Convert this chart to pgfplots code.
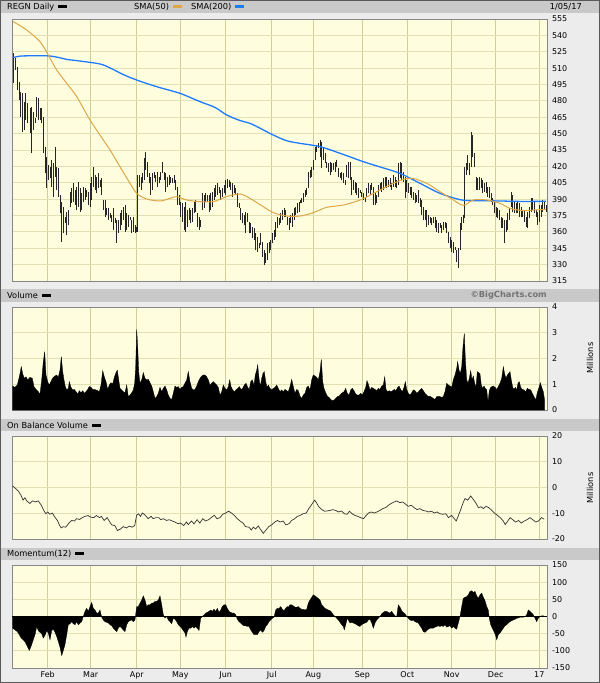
\documentclass[border=0pt]{standalone}
\usepackage{pgfplots}
\pgfplotsset{compat=1.18}
\usepackage{fontspec}
\setmainfont{DejaVu Sans}
\definecolor{plotbg}{RGB}{254,254,222}
\definecolor{vgrid}{RGB}{206,206,150}
\definecolor{hgrid}{RGB}{224,224,178}
\definecolor{outerbg}{RGB}{236,236,236}
\definecolor{hdr}{RGB}{201,201,201}
\definecolor{framec}{RGB}{135,135,135}
\definecolor{smaor}{RGB}{222,166,70}
\definecolor{smabl}{RGB}{30,122,255}
\newcommand{\swatch}[1]{\hspace{4bp}\textcolor{#1}{\rule[1.5bp]{9bp}{3bp}}}
\pgfplotsset{
  panel/.style={
    scale only axis, width=535bp, anchor=south west,
    xmin=12, xmax=547,
    axis background/.style={fill=plotbg},
    axis line style={framec, line width=0.9bp},
    xtick={47.7,90.7,136.7,180.3,225.7,271.7,313.3,362.3,407.3,451.7,495.7,539.3},
    xticklabels={},
    xmajorgrids, ymajorgrids,
    x grid style={vgrid, line width=0.9bp},
    y grid style={hgrid, line width=0.8bp},
    major tick length=0pt,
    yticklabel pos=right,
    tick label style={font=\fontsize{8}{9}\selectfont, text=black},
    yticklabel style={anchor=west, xshift=1.5bp},
  }
}
\begin{document}
\begin{tikzpicture}
\path[use as bounding box] (0,0) rectangle (600bp,-683bp);
\fill[outerbg] (0,0) rectangle (600bp,-683bp);
\fill[hdr] (0,0) rectangle (600bp,-13bp);
\fill[hdr] (0,-289bp) rectangle (600bp,-302bp);
\fill[hdr] (0,-419bp) rectangle (600bp,-431bp);
\fill[hdr] (0,-548bp) rectangle (600bp,-560bp);
\draw[black!65, line width=1bp] (0.5bp,-0.5bp) rectangle (599.5bp,-682.5bp);
\begin{scope}[every node/.style={inner sep=0pt, font=\fontsize{8.3}{9}\selectfont}]
\node[anchor=west] at (7bp,-7bp) {REGN Daily\swatch{black}};
\node[anchor=west] at (134bp,-7bp) {SMA(50)\swatch{smaor}};
\node[anchor=west] at (191bp,-7bp) {SMA(200)\swatch{smabl}};
\node[anchor=east] at (582bp,-7bp) {1/05/17};
\node[anchor=west] at (7bp,-295.5bp) {Volume\swatch{black}};
\node[anchor=east, text=black!55] at (547bp,-295.5bp) {\textbf{©BigCharts.com}};
\node[anchor=west] at (7bp,-425bp) {On Balance Volume\swatch{black}};
\node[anchor=west] at (7bp,-554bp) {Momentum(12)\swatch{black}};
\node[rotate=90] at (590bp,-358bp) {Millions};
\node[rotate=90] at (590bp,-488bp) {Millions};
\end{scope}

% ---------------- Price panel ----------------
\begin{axis}[panel, at={(12bp,-281bp)}, height=262bp, ymin=315, ymax=555,
  ytick={315,330,345,360,375,390,405,420,435,450,465,480,495,510,525,540,555},
  yticklabels={315,330,345,360,375,390,405,420,435,450,465,480,495,510,525,540,555}]
\addplot[black!85, line width=0.75bp, quiver={u=0, v=\thisrow{h}-\thisrow{l}}] table[x=x, y=l] {
x h l
13.3 524.2 496.1
15.0 519.0 508.3
17.3 511.3 490.0
19.0 497.6 480.8
20.7 488.4 465.5
22.3 486.9 451.8
24.0 479.3 453.3
25.7 486.9 462.5
27.7 477.7 459.4
30.0 473.2 450.3
31.7 474.7 431.9
33.3 470.1 453.3
35.0 464.0 459.4
36.7 483.9 465.5
38.3 482.3 462.5
40.0 473.2 462.5
41.7 473.2 459.4
43.3 465.5 431.9
45.0 438.1 413.6
46.7 428.9 399.9
48.3 421.3 407.5
50.0 419.7 409.0
51.7 425.8 401.4
53.3 422.8 392.3
55.0 438.1 410.6
56.7 419.7 398.4
58.3 418.2 392.3
60.0 393.8 377.0
61.7 387.7 351.0
63.3 383.1 358.7
65.0 373.9 367.8
66.7 378.5 357.1
68.3 380.0 366.3
70.0 396.8 383.1
71.7 399.9 386.1
73.3 404.5 387.7
75.0 398.4 384.6
76.7 401.4 380.0
78.3 406.0 383.1
80.0 399.9 378.5
81.7 395.3 380.0
83.3 401.4 387.7
85.0 399.9 389.2
86.7 398.4 392.3
88.3 396.8 384.6
90.0 404.5 383.1
91.7 410.6 389.2
93.3 419.7 401.4
95.0 412.1 398.4
96.7 410.6 395.3
98.3 413.6 399.9
100.0 407.5 401.4
101.7 409.0 393.8
103.3 389.2 380.0
105.0 389.2 373.9
106.7 381.6 375.5
108.3 381.6 370.9
110.0 377.0 372.4
111.7 375.5 369.3
113.3 381.6 361.7
115.0 372.4 367.8
116.7 370.9 349.5
118.3 370.9 358.7
120.0 377.0 361.7
121.7 380.0 366.3
123.3 383.1 370.9
125.0 384.6 360.2
126.7 377.0 361.7
128.3 375.5 364.8
130.0 373.9 370.9
131.7 370.9 358.7
133.3 373.9 360.2
135.0 366.3 358.7
136.7 364.8 360.2
137.7 412.1 360.2
139.3 412.1 401.4
141.0 410.6 398.4
142.7 413.6 404.5
144.3 427.4 407.5
145.7 433.5 416.7
147.3 424.3 410.6
149.0 413.6 404.5
150.7 410.6 393.8
152.3 413.6 398.4
154.0 415.2 409.0
155.7 412.1 406.0
157.3 415.2 401.4
159.0 410.6 404.5
160.7 415.2 407.5
162.3 424.3 413.6
164.0 415.2 407.5
165.7 413.6 396.8
167.3 410.6 401.4
169.0 412.1 402.9
170.7 410.6 404.5
172.3 409.0 404.5
174.0 412.1 404.5
175.7 407.5 398.4
177.3 401.4 384.6
179.0 393.8 384.6
180.7 387.7 373.9
182.3 386.1 369.3
184.0 383.1 361.7
185.7 387.7 360.2
187.3 380.0 364.8
189.0 381.6 370.9
190.7 380.0 367.8
192.3 381.6 369.3
194.0 387.7 377.0
195.7 389.2 378.5
197.3 377.0 364.8
199.0 373.9 361.7
200.7 370.9 364.8
202.3 395.3 380.0
204.0 393.8 381.6
205.7 395.3 387.7
207.3 393.8 387.7
209.0 393.8 378.5
210.7 395.3 380.0
212.3 396.8 383.1
214.0 399.9 389.2
215.7 402.9 392.3
217.3 404.5 393.8
219.0 401.4 395.3
220.7 398.4 389.2
222.3 399.9 392.3
224.0 402.9 395.3
225.7 407.5 393.8
227.3 408.1 399.9
229.0 407.5 401.4
230.7 406.0 398.4
232.3 404.5 392.3
234.0 402.9 395.3
235.7 399.9 393.8
237.3 395.3 383.1
239.0 386.1 381.6
240.7 381.6 370.9
242.3 377.0 367.8
244.0 375.5 366.3
245.7 378.5 358.7
247.3 377.0 369.3
249.0 369.3 358.7
250.7 367.8 358.7
252.3 364.8 354.1
254.0 363.2 352.6
255.7 358.7 343.4
257.3 355.6 341.9
259.0 349.5 344.9
260.7 358.7 348.0
262.3 351.0 337.3
264.0 343.4 329.6
265.7 340.3 331.2
267.3 349.5 334.2
269.0 351.0 340.3
270.7 352.6 343.4
272.3 358.7 349.5
274.0 361.7 352.6
275.7 369.3 355.6
277.3 373.9 363.2
279.0 372.4 366.3
280.7 377.0 367.8
282.3 380.0 370.9
284.0 381.6 373.9
285.7 380.0 373.9
287.3 373.9 366.3
289.0 372.4 361.7
290.7 375.5 367.8
292.3 377.0 364.8
294.0 381.6 370.9
295.7 383.1 375.5
297.3 386.1 377.0
299.0 387.7 378.5
300.0 389.2 386.1
301.7 390.7 386.1
303.3 395.3 387.7
305.0 398.4 392.3
306.7 399.9 393.8
308.3 415.2 399.9
310.0 416.7 409.0
311.7 419.7 410.6
313.3 425.8 416.7
315.0 438.1 425.8
316.7 439.6 433.5
318.3 441.1 436.5
320.0 444.2 428.9
321.7 442.6 418.2
323.3 438.1 425.8
325.0 431.9 422.8
326.7 424.3 418.2
328.3 422.8 415.2
330.0 424.3 412.1
331.7 422.8 415.2
333.3 422.8 416.7
335.0 424.3 415.2
336.7 425.8 419.7
338.3 418.2 410.6
340.0 413.6 409.0
341.7 415.2 407.5
343.3 413.6 404.5
345.0 407.5 402.9
346.7 421.3 410.6
348.3 424.3 409.0
350.0 424.3 407.5
351.7 410.6 393.8
353.3 407.5 398.4
355.0 406.0 395.3
356.7 404.5 393.8
358.3 399.9 390.7
360.0 398.4 395.3
361.7 396.8 392.3
363.3 395.3 389.2
365.0 392.3 387.7
366.7 399.9 392.3
368.3 404.5 395.3
370.0 402.9 393.8
371.7 404.5 398.4
373.3 401.4 384.6
375.0 395.3 384.6
376.7 393.8 386.1
378.3 402.9 392.3
380.0 404.5 398.4
381.7 406.0 396.8
383.3 409.0 398.4
385.0 410.6 401.4
386.7 410.6 399.9
388.3 407.5 401.4
390.0 409.0 401.4
391.7 404.5 398.4
393.3 412.1 401.4
395.0 410.6 401.4
396.7 407.5 399.9
398.3 422.8 402.9
400.0 424.3 409.0
401.7 422.8 407.5
403.3 415.2 406.0
405.0 410.6 390.7
406.7 407.5 396.8
408.3 404.5 395.3
410.0 401.4 393.8
411.7 401.4 390.7
413.3 396.8 389.2
415.0 395.3 386.1
416.7 393.8 387.7
418.3 398.4 386.1
420.0 390.7 383.1
421.7 389.2 375.5
423.3 383.1 370.9
425.0 380.0 370.9
426.7 380.0 364.8
428.3 375.5 366.3
430.0 373.9 367.8
431.7 372.4 366.3
433.3 373.9 367.8
435.0 373.9 363.2
436.7 370.9 360.2
438.3 367.8 358.7
440.0 367.8 363.2
441.7 366.3 358.7
443.3 369.3 361.7
445.0 369.3 363.2
446.7 367.8 358.7
448.3 360.2 349.5
450.0 355.6 344.9
451.7 352.6 341.9
453.3 351.0 340.3
455.0 346.4 343.4
456.7 343.4 332.7
458.3 344.9 326.6
460.0 367.8 343.4
461.7 373.9 361.7
463.3 375.5 367.8
464.3 419.7 372.4
466.0 422.8 412.1
467.7 430.4 416.7
469.3 422.8 412.1
471.0 451.8 419.7
472.7 448.7 428.9
474.3 431.9 419.7
476.0 410.6 398.4
477.7 409.0 398.4
479.3 410.6 398.4
481.0 409.0 399.9
482.7 407.5 395.3
484.3 404.5 396.8
486.0 406.0 395.3
487.7 401.4 392.3
489.3 401.4 390.7
491.0 395.3 387.7
492.7 390.7 384.6
494.3 387.7 377.0
496.0 383.1 373.9
497.7 381.6 372.4
499.3 380.0 370.9
501.0 373.9 363.2
502.7 372.4 363.2
504.3 370.9 349.5
506.0 370.9 360.2
507.7 377.0 361.7
509.3 381.6 370.9
511.0 396.8 383.1
512.7 393.8 378.5
514.3 387.7 377.0
516.0 386.1 377.0
517.7 387.7 377.0
519.3 386.1 373.9
521.0 383.1 373.9
522.7 380.0 373.9
524.3 380.0 369.3
526.0 373.9 364.8
527.7 378.5 363.2
529.3 383.1 372.4
531.0 390.7 378.5
532.7 390.7 380.0
534.3 387.7 377.0
536.0 380.0 373.9
537.7 378.5 366.3
539.3 384.6 369.3
541.0 384.6 373.9
542.7 389.2 378.5
544.3 387.7 380.0
546.0 384.6 378.5
};
\addplot[smabl, line width=1.3bp, smooth, tension=0.5] coordinates {
(13.3,519.7) (20,521) (30,521.3) (40,521.3) (50,521.1) (60,519.5) (66.7,518) (80,516.5)
(100,513.8) (110,510.2) (123.3,504.1) (136.7,499.1) (156.7,493) (180,486.9) (200,479.3)
(215,474) (226.7,467.1) (240,462) (250,459.4) (260,455) (273.3,448.7) (286.7,443.5)
(300,441.1) (320,438.1) (340,432) (363.3,424.3) (380,419.5) (400,413.6) (420,404.5)
(440,395.3) (461.7,389.2) (480,388.6) (500,388.3) (520,387.9) (546,388)
};
\addplot[smaor, line width=1bp, smooth, tension=0.5] coordinates {
(13.3,552.6) (26.7,544.9) (40,534.2) (48.3,522) (56.7,508.3) (66.7,496.1) (76.7,483.9)
(90,462.5) (100,448.7) (110,435) (120,419.7) (130,404.5) (136.7,395.3) (146.7,390.1)
(160,388.3) (170,390.7) (176.7,392.3) (186.7,389.2) (200,387.7) (213.3,387.7)
(226.7,392.3) (240,394.7) (250,390.7) (263.3,383.1) (273.3,377.6) (286.7,374.5)
(300,374.5) (313.3,377.6) (326.7,382.5) (343.3,384.6) (360,389.2) (376.7,396.8)
(393.3,404.5) (406.7,409) (413.3,409) (426.7,404.5) (440,396.8) (453.3,389.2)
(463.3,384.3) (473.3,389.2) (486.7,389.2) (500,386.1) (510,381.6) (523.3,379.4)
(533.3,380) (546,380.6)
};
\end{axis}

% ---------------- Volume panel ----------------
\begin{axis}[panel, at={(12bp,-410bp)}, height=103bp, ymin=0, ymax=4,
  ytick={0,1,2,3,4}, yticklabels={0,1,2,3,4}]
\addplot[fill=black, draw=black, line width=0.3bp] table {
x v
12.7 0.93
15.0 0.88
17.3 0.97
19.3 1.29
21.3 1.68
22.7 1.40
24.3 1.23
26.0 1.29
27.7 1.17
30.0 1.27
32.3 1.23
34.0 0.91
36.0 0.80
38.3 0.71
40.0 0.62
41.7 1.17
43.3 1.88
44.7 2.27
46.0 1.36
47.7 1.10
49.3 0.97
51.7 1.17
53.3 1.27
55.0 1.32
56.7 1.36
58.3 1.27
60.0 1.55
61.3 2.07
62.7 1.49
64.0 1.17
65.3 0.91
66.7 0.78
68.3 0.84
69.3 1.10
71.0 0.88
72.7 0.78
74.3 0.80
76.0 0.71
77.7 0.62
79.3 0.75
81.0 0.67
82.7 0.75
84.3 0.65
86.0 0.71
87.7 0.80
89.3 0.91
91.0 0.88
92.7 0.80
94.3 0.80
96.0 0.78
97.7 0.75
99.3 0.71
101.0 0.97
102.7 1.53
104.3 1.29
106.0 1.10
107.7 0.80
109.3 0.97
111.0 1.06
112.7 1.01
114.3 1.27
116.0 1.45
117.3 1.55
118.7 1.17
120.0 0.84
121.7 0.78
123.3 0.71
125.0 0.67
126.7 0.97
128.3 0.52
130.0 0.58
131.7 0.67
133.3 0.78
134.7 1.04
135.7 1.68
136.7 3.13
137.7 2.46
138.7 1.49
140.0 1.04
141.7 1.17
143.3 1.45
145.0 1.23
146.7 1.17
148.3 1.19
150.0 1.06
151.7 0.93
153.3 0.71
155.0 0.45
156.7 0.52
158.3 0.65
160.0 0.88
161.7 0.71
163.3 0.84
165.0 0.93
166.7 0.78
168.3 0.58
170.0 0.45
171.7 0.41
173.3 0.65
175.0 0.93
176.7 0.88
178.3 0.91
180.0 0.80
181.7 0.88
183.3 0.91
185.0 1.04
186.7 1.17
188.3 1.49
190.0 1.10
191.7 0.84
193.3 0.78
195.0 0.80
196.7 0.93
198.3 1.10
200.0 1.23
201.7 1.32
203.3 1.36
205.0 1.36
206.7 1.29
208.3 1.17
210.0 0.97
211.7 1.04
213.3 1.10
215.0 1.04
216.7 0.97
218.3 0.88
220.0 0.58
221.7 0.71
223.3 0.97
225.0 0.84
226.7 0.78
228.3 0.91
229.7 1.17
231.0 0.91
232.7 0.78
234.3 0.71
236.0 0.78
237.7 0.84
239.3 0.91
241.0 0.80
242.7 0.84
244.3 0.97
246.0 1.04
247.7 0.88
249.3 0.80
250.7 1.10
252.3 1.17
254.0 0.97
255.3 1.36
256.7 1.55
257.7 1.75
259.0 1.23
260.3 0.91
261.7 1.23
263.0 1.42
264.3 1.49
265.7 1.10
267.0 0.88
268.3 0.97
270.0 0.84
271.7 0.78
273.3 0.84
275.0 0.88
276.7 0.97
278.3 0.84
280.0 0.71
281.7 0.78
283.3 0.71
285.0 0.80
286.7 0.75
288.3 0.71
290.0 0.91
291.7 1.19
293.3 0.91
295.0 0.65
296.7 0.80
298.3 0.75
300.0 0.54
301.7 0.45
303.3 0.58
305.0 0.65
306.7 0.88
308.3 0.93
310.0 0.78
311.7 1.17
313.3 1.36
315.0 1.32
316.7 1.27
318.3 1.17
320.0 1.49
321.3 1.97
322.7 1.10
324.0 0.84
325.7 0.67
327.3 0.54
329.0 0.49
330.7 0.41
332.3 0.36
334.0 0.39
335.7 0.45
337.3 0.52
339.0 0.54
340.7 0.62
342.3 0.67
344.0 0.71
345.7 0.84
347.3 0.65
349.0 0.58
350.7 0.78
352.3 0.84
354.0 0.75
355.7 0.62
357.3 0.58
359.0 0.58
360.7 0.65
362.3 0.58
364.0 0.71
365.7 0.88
367.0 1.14
368.3 1.01
370.0 0.78
371.7 0.88
373.3 0.84
375.0 0.80
376.7 0.75
378.3 0.84
380.0 0.80
381.7 0.93
383.3 0.97
384.7 1.29
386.0 0.80
387.7 0.71
389.3 0.75
391.0 0.71
392.7 0.75
394.3 0.80
396.0 0.75
397.7 0.88
399.0 0.93
400.7 0.80
402.3 0.71
404.0 0.88
405.3 1.10
406.7 0.80
408.3 0.65
410.0 0.58
411.7 0.67
413.3 0.78
415.0 0.75
416.7 0.65
418.3 0.71
420.0 0.78
421.7 0.84
423.3 0.75
425.0 0.65
426.7 0.58
428.3 0.52
430.0 0.54
431.7 0.49
433.3 0.45
435.0 0.41
436.7 0.52
438.3 0.52
440.0 0.52
441.7 0.49
443.3 0.52
445.0 0.71
446.7 1.04
448.3 0.97
450.0 0.93
451.7 0.88
453.3 1.17
455.0 1.36
456.7 1.62
457.7 1.88
459.0 1.55
460.3 1.42
461.7 1.68
463.0 2.46
464.3 2.98
465.3 2.01
466.7 1.17
468.0 1.04
469.3 1.23
470.7 1.53
472.0 1.17
473.3 1.32
474.7 1.04
476.0 0.88
477.3 1.49
478.7 1.45
480.0 1.40
481.3 0.97
482.7 0.84
484.0 0.93
485.3 0.84
486.7 0.78
488.0 0.32
489.3 0.75
490.7 0.88
492.0 0.91
493.3 0.93
495.0 0.88
496.7 0.80
498.3 0.91
500.0 1.04
501.7 1.23
503.3 1.68
504.7 1.40
506.0 1.23
507.3 1.36
508.7 1.42
510.0 1.49
511.3 1.17
512.7 0.88
514.0 0.80
515.3 0.88
516.7 0.78
518.0 1.04
519.3 1.10
520.7 0.88
522.3 0.80
524.0 0.78
525.7 0.71
527.3 0.84
529.0 0.80
530.7 0.78
532.3 0.65
534.0 0.52
535.7 0.39
537.3 0.67
539.0 0.88
540.3 1.06
541.7 0.88
543.3 0.71
544.7 0.36
} \closedcycle;
\end{axis}

% ---------------- OBV panel ----------------
\begin{axis}[panel, at={(12bp,-539bp)}, height=103bp, ymin=-20, ymax=20,
  ytick={-20,-10,0,10,20}, yticklabels={-20,-10,0,10,20}]
\addplot[black!80, line width=0.7bp] table {
x v
12.6 0.6
15.3 -0.3
18.4 -1.4
21.0 -3.0
23.0 -4.9
24.9 -4.0
26.8 -5.2
29.9 -6.2
32.5 -5.2
35.2 -5.6
38.3 -5.2
41.3 -6.9
44.0 -9.1
45.9 -10.2
47.8 -9.5
49.8 -10.4
52.4 -9.9
54.3 -11.2
57.4 -12.8
59.3 -14.5
61.2 -15.7
63.1 -15.2
65.8 -15.4
68.9 -13.8
71.6 -12.8
74.6 -13.0
76.5 -12.1
79.6 -12.4
82.3 -11.7
85.0 -11.2
88.0 -10.9
90.7 -11.5
93.8 -11.7
96.4 -10.9
99.5 -11.7
101.4 -11.2
104.1 -12.8
107.2 -11.7
109.1 -13.0
111.7 -14.5
114.8 -14.8
117.5 -16.7
120.6 -16.1
123.2 -15.2
126.3 -15.7
129.4 -15.0
132.0 -15.4
134.7 -14.8
136.6 -10.8
138.5 -10.2
140.5 -11.2
142.4 -9.9
145.4 -10.8
148.1 -12.1
151.2 -11.2
153.1 -12.1
155.8 -11.7
158.8 -11.7
160.7 -12.5
163.4 -12.1
166.5 -12.8
169.2 -12.5
172.2 -13.0
174.9 -13.4
178.0 -14.1
180.6 -13.8
183.7 -14.8
186.4 -13.4
188.3 -14.4
191.4 -13.0
194.0 -14.1
197.1 -12.5
199.8 -13.8
202.8 -12.1
205.5 -13.0
208.6 -12.5
211.2 -11.7
214.3 -10.8
217.0 -12.1
220.1 -11.7
222.7 -10.4
225.8 -9.9
228.5 -9.2
231.5 -9.9
234.2 -10.8
237.3 -12.1
240.0 -13.0
243.0 -13.8
245.7 -15.2
248.8 -15.4
251.4 -16.5
253.3 -15.4
255.6 -16.1
258.3 -14.9
260.2 -16.1
263.3 -17.8
266.0 -16.5
268.7 -15.2
271.7 -14.5
274.8 -13.4
277.5 -12.8
280.1 -13.4
283.2 -13.0
285.9 -14.5
288.9 -14.1
291.6 -12.8
294.7 -12.1
297.4 -11.2
300.4 -10.8
303.1 -10.2
306.2 -9.9
308.8 -8.2
311.9 -6.5
314.6 -4.9
316.5 -5.9
318.8 -7.5
321.5 -8.5
324.5 -9.2
327.2 -9.1
329.9 -8.9
333.0 -8.6
335.6 -8.9
338.7 -9.5
341.4 -9.1
344.4 -10.2
347.1 -10.4
349.4 -9.2
352.1 -10.2
354.8 -10.8
357.8 -11.2
360.5 -11.7
363.6 -12.1
366.2 -10.8
368.5 -9.9
371.2 -9.5
374.3 -9.9
377.0 -9.5
380.0 -8.9
382.7 -8.2
385.8 -7.8
388.4 -6.9
391.1 -6.2
394.2 -5.6
396.9 -5.2
399.9 -5.9
402.6 -5.6
405.7 -6.5
408.3 -7.3
411.4 -6.9
414.1 -7.8
417.1 -8.6
419.8 -8.2
422.9 -8.9
425.6 -9.1
428.6 -9.5
431.3 -9.2
434.4 -9.9
437.0 -9.5
440.1 -10.2
442.8 -10.4
445.8 -10.2
448.5 -11.7
451.6 -10.8
454.3 -12.1
456.2 -13.0
458.1 -11.2
460.4 -8.9
463.1 -5.9
465.0 -4.3
467.7 -4.9
470.7 -3.3
473.4 -4.7
475.7 -5.9
478.4 -7.8
481.1 -7.5
483.4 -8.2
486.0 -7.3
488.7 -7.8
491.8 -8.9
494.4 -9.9
497.5 -10.8
500.2 -11.7
503.3 -13.0
505.2 -14.4
507.8 -13.0
510.1 -11.7
512.8 -12.5
515.5 -13.4
518.6 -12.8
521.2 -13.8
524.3 -13.0
527.0 -12.5
530.0 -11.7
532.7 -12.5
535.8 -13.4
538.5 -13.0
541.5 -11.7
544.2 -12.3
};
\end{axis}

% ---------------- Momentum panel ----------------
\begin{axis}[panel, at={(12bp,-668bp)}, height=103bp, ymin=-150, ymax=150,
  ytick={-150,-100,-50,0,50,100,150}, yticklabels={-150,-100,-50,0,50,100,150},
  xticklabels={Feb,Mar,Apr,May,Jun,Jul,Aug,Sep,Oct,Nov,Dec,17}]
\addplot[fill=black, draw=black, line width=0.3bp] table {
x m
12.7 -34
15.0 -39
17.3 -44
19.3 -53
21.3 -63
23.3 -68
25.3 -75
27.3 -87
29.3 -99
31.3 -85
33.3 -68
35.3 -50
36.7 -29
38.3 -41
40.0 -46
41.7 -50
43.3 -63
45.3 -53
46.7 -41
48.3 -48
50.0 -68
51.7 -41
53.3 -37
55.0 -46
56.7 -58
58.3 -73
60.0 -89
61.7 -114
63.3 -99
65.0 -82
66.7 -53
68.3 -24
70.0 -21
71.7 -15
73.3 -21
75.0 -24
76.7 -15
78.3 -24
80.0 -19
81.7 -15
83.3 0
85.0 15
86.7 24
88.3 15
90.0 29
91.7 41
93.3 24
95.0 19
96.7 10
98.3 10
100.0 19
101.7 -2
103.3 -10
105.0 -15
106.7 -17
108.3 -19
110.0 -24
111.7 -27
113.3 -34
115.0 -39
116.7 -44
118.3 -34
120.0 -29
121.7 -34
123.3 -39
125.0 -44
126.7 -24
128.3 -15
130.0 -12
131.7 -10
133.3 -15
135.0 -10
136.7 29
138.3 29
140.0 39
141.7 48
143.3 60
145.0 48
146.7 29
148.3 34
150.0 34
151.7 39
153.3 39
155.0 44
156.7 44
158.3 48
160.0 60
161.7 34
163.3 5
165.0 -5
166.7 0
168.3 -10
170.0 -15
171.7 -21
173.3 -5
175.0 -8
176.7 -15
178.3 -24
180.0 -29
181.7 -34
183.3 -41
185.0 -48
186.0 -60
187.3 -44
189.0 -34
190.7 -34
192.3 -29
194.0 -34
195.7 -29
197.3 -34
199.0 -41
200.7 -5
202.3 0
204.0 5
205.7 10
207.3 12
209.0 15
210.7 19
212.3 15
214.0 21
215.7 15
217.3 24
219.0 12
220.7 19
222.3 29
224.0 34
225.7 34
227.3 24
229.0 15
230.7 12
232.3 10
234.0 10
235.7 5
237.3 -8
239.0 -15
240.7 -19
242.3 -24
244.0 -27
245.7 -27
247.3 -29
249.0 -29
250.7 -39
252.3 -46
254.0 -53
255.7 -53
257.3 -53
259.0 -44
260.7 -39
262.3 -46
264.0 -41
265.7 -29
267.3 -24
269.0 -15
270.7 -10
272.3 -5
274.0 -2
275.7 19
277.3 24
279.0 24
280.7 29
282.3 21
284.0 17
285.7 24
287.3 29
289.0 29
290.0 34
291.7 34
293.3 31
295.0 27
296.7 27
298.3 29
300.0 24
301.7 21
303.3 21
305.0 19
306.7 21
308.3 39
310.0 48
311.7 56
313.3 63
315.0 60
316.7 56
318.3 53
320.0 48
321.7 34
323.3 29
325.0 24
326.7 21
328.3 19
330.0 17
331.7 12
333.3 5
335.0 0
336.7 -5
338.3 -10
340.0 -17
341.7 -24
343.3 -29
344.3 -39
345.7 -24
347.3 -5
348.3 -10
350.0 -19
351.7 -17
353.3 -19
355.0 -21
356.7 -24
358.3 -27
360.0 -29
361.7 -24
363.3 -21
365.0 -19
366.7 -17
368.3 -10
370.0 -8
371.7 -19
373.3 -34
375.0 -19
376.7 -10
378.3 -5
380.0 0
381.7 8
383.3 12
385.0 15
386.7 15
388.3 12
390.0 10
391.7 15
393.3 8
395.0 2
396.7 0
398.3 34
400.0 27
401.7 17
403.3 12
405.0 8
406.7 0
408.3 -5
410.0 -10
411.7 -12
413.3 -10
415.0 -15
416.7 -17
418.3 -19
420.0 -27
421.7 -34
423.3 -44
425.0 -46
426.7 -41
428.3 -37
430.0 -34
431.7 -34
433.3 -34
435.0 -31
436.7 -29
438.3 -27
440.0 -29
441.7 -27
443.3 -29
445.0 -24
446.7 -31
448.3 -29
450.0 -27
451.7 -34
453.3 -29
455.0 -34
456.7 -37
458.3 -19
460.0 0
461.7 29
463.3 53
465.0 56
466.7 58
468.3 63
470.0 73
471.7 75
473.3 70
475.0 73
476.7 60
478.3 53
480.0 63
481.7 68
483.3 56
485.0 46
486.7 29
488.3 19
489.3 -5
490.7 -24
492.3 -34
494.0 -44
495.7 -56
496.7 -68
498.3 -53
500.0 -48
501.7 -41
503.3 -34
505.0 -27
506.7 -24
508.3 -19
510.0 -15
511.7 -12
513.3 -10
515.0 -8
516.7 -5
518.3 -4
520.0 -2
521.7 -2
523.3 -2
525.0 0
526.7 5
528.3 19
530.0 15
531.7 10
533.3 5
535.0 -5
536.7 -15
538.3 -5
540.0 0
541.7 2
543.3 2
545.0 0
} \closedcycle;
\addplot[black, line width=1.1bp] coordinates {(12,0) (547,0)};
\end{axis}
\end{tikzpicture}
\end{document}
